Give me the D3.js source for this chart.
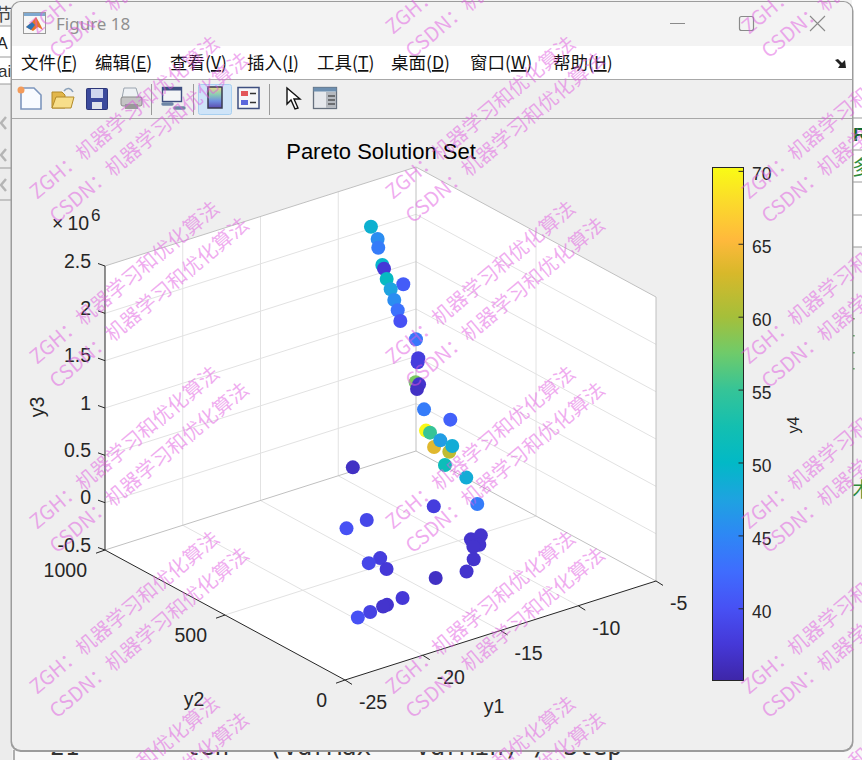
<!DOCTYPE html>
<html>
<head>
<meta charset="utf-8">
<script src="https://cdnjs.cloudflare.com/ajax/libs/d3/7.8.5/d3.min.js"></script>
<style>
  html, body { margin: 0; padding: 0; background: #fff; overflow: hidden; }
  svg { display: block; }
  text { font-family: "Liberation Sans", Arial, sans-serif; }
</style>
</head>
<body>
<svg id="chart" width="862" height="760"></svg>
<script>
// values, y3 in units of 1e6
const y1Values = [-9.44, -9.01, -8.97, -8.71, -8.60, -8.43, -7.36, -8.17, -7.94, -7.72, -7.55,
  -8.09, -7.94, -7.98, -8.11, -7.89, -8.02, -7.57, -5.88,
  -9.76, -9.24, -8.26, -9.50, -8.84, -8.07, -8.54, -8.71, -10.32,
  -12.32, -11.96, -15.70, -17.14, -12.92, -12.22, -12.98, -13.38, -14.30, -15.50, -17.24,
  -18.00, -18.84, -18.56, -20.08, -21.22, -21.50, -22.44, -23.34];
const y2Values = [900, 900, 900, 900, 900, 900, 900, 900, 900, 900, 900,
  800, 800, 800, 800, 800, 800, 800, 800,
  650, 650, 650, 650, 650, 650, 650, 550, 400,
  789, 475, 512, 503, 258, 262, 219, 218, 157, 109, 125,
  307, 300, 244, 79, 70, 68, 61, 54];
const y3Values = [2.239, 2.086, 1.992, 1.796, 1.751, 1.634, 1.522, 1.511, 1.386, 1.266, 1.144,
  1.116, 0.908, 0.867, 0.663, 0.630, 0.588, 0.349, 0.152,
  0.445, 0.244, 0.143, 0.410, 0.294, 0.194, 0.018, 0.031, 0.042,
  0, 0, 0, 0, 0, 0, 0, 0, 0, 0, 0,
  0, 0, 0, 0, 0, 0, 0, 0];
const y4Values = [49, 45.5, 44, 49.5, 37.5, 50.5, 41, 47.5, 45.5, 43, 40,
  43.5, 38, 38, 58, 37, 36.5, 44, 41.5,
  70, 63.5, 61.5, 55, 47, 48.5, 51.5, 48.5, 44,
  36.5, 38, 39, 40, 37, 37, 37, 37, 37, 37, 36.5,
  38, 39, 37.5, 37.5, 37, 37, 38.5, 40];

const y1Ticks = [-25, -20, -15, -10, -5];
const y2Ticks = [0, 500, 1000];
const y3Ticks = [-0.5, 0, 0.5, 1, 1.5, 2, 2.5];
const y4Ticks = [40, 45, 50, 55, 60, 65, 70];
const colorAt = [35.05, 37.5, 40, 42.5, 45, 47.5, 50, 52.5, 55, 57.5, 60, 63, 65.3, 68, 70.23];
const colorStops = ['#3e26a8', '#4538d7', '#4751f4', '#3f6cfe', '#2e87f5', '#1ea3e0', '#02b9c6', '#14bfb0',
  '#36c497', '#6fcb6a', '#a5bf3a', '#d8b82a', '#ffb93c', '#fbdc2a', '#f9fb15'];
const menuItems = [['文件(', 'F', ')', 21], ['编辑(', 'E', ')', 95], ['查看(', 'V', ')', 170], ['插入(', 'I', ')', 247],
  ['工具(', 'T', ')', 317], ['桌面(', 'D', ')', 391], ['窗口(', 'W', ')', 470], ['帮助(', 'H', ')', 553]];

const svg = d3.select('#chart');
const inkFont = '"Liberation Sans", Arial, sans-serif';
const cjkFont = '"Noto Sans CJK SC", sans-serif';
const monoFont = '"DejaVu Sans Mono", monospace';

// --- what is behind the figure window
const back = svg.append('g');
back.append('rect').attr('width', 862).attr('height', 760).attr('fill', '#f3f3f3');
back.append('rect').attr('x', 0).attr('y', 26).attr('width', 12).attr('height', 58).attr('fill', '#fff');
back.append('rect').attr('x', 852).attr('y', 0).attr('width', 10).attr('height', 247).attr('fill', '#fff');
back.append('rect').attr('x', 0).attr('y', 84).attr('width', 12).attr('height', 676).attr('fill', '#ececec');
back.append('rect').attr('x', 14).attr('y', 750).attr('width', 848).attr('height', 10).attr('fill', '#f8f8f8');
[26, 57, 84, 168, 200].forEach(y => {
  back.append('line').attr('x1', 0).attr('x2', 12).attr('y1', y).attr('y2', y).attr('stroke', '#9a9a9a');
});
[118, 150, 182, 215, 247].forEach(y => {
  back.append('line').attr('x1', 852).attr('x2', 862).attr('y1', y).attr('y2', y).attr('stroke', '#9a9a9a');
});
back.append('line').attr('x1', 14).attr('x2', 14).attr('y1', 750).attr('y2', 760).attr('stroke', '#666');
back.append('text').attr('x', -6).attr('y', 21).attr('font-size', 18).attr('fill', '#444').style('font-family', cjkFont).text('节');
back.append('text').attr('x', -3).attr('y', 49).attr('font-size', 16).attr('fill', '#222').text('A');
back.append('text').attr('x', -2).attr('y', 77).attr('font-size', 17).attr('fill', '#333').text('ai');
[123, 155, 185].forEach(y => {
  back.append('path').attr('d', `M6,${y - 6}L1,${y}L6,${y + 6}`).attr('fill', 'none').attr('stroke', '#b5b5b5').attr('stroke-width', 2.5);
});
back.append('text').attr('x', 853).attr('y', 141).attr('font-size', 19).attr('font-weight', 'bold').attr('fill', '#0a6b2a').text('R3');
back.append('text').attr('x', 852).attr('y', 175).attr('font-size', 20).attr('fill', '#2e8b3a').style('font-family', cjkFont).text('多');
back.append('text').attr('x', 852).attr('y', 497).attr('font-size', 20).attr('fill', '#2e8b3a').style('font-family', cjkFont).text('木');
[318, 335, 352, 368].forEach(y => {
  back.append('rect').attr('x', 853).attr('y', y).attr('width', 1.5).attr('height', 1.5).attr('fill', '#2e8b3a');
});
[['21', 50], ['len', 185], ['(VarMax - VarMin) / Step', 268]].forEach(d => {
  back.append('text').attr('x', d[1]).attr('y', 755).attr('font-size', 24.5).attr('fill', '#333')
    .style('font-family', monoFont).text(d[0]);
});

// --- figure window frame
const windowG = svg.append('g');
windowG.append('rect').attr('x', 10.5).attr('y', 1).attr('width', 843).attr('height', 751).attr('rx', 10)
  .attr('fill', '#9c9c9c');
windowG.append('rect').attr('x', 12).attr('y', 2).attr('width', 840).attr('height', 748).attr('rx', 9)
  .attr('fill', '#efefef');
windowG.append('path').attr('d', 'M12,46V11a9,9 0 0 1 9,-9H843a9,9 0 0 1 9,9V46Z').attr('fill', '#f3f3f3');
windowG.append('rect').attr('x', 12).attr('y', 46).attr('width', 840).attr('height', 33).attr('fill', '#fff');
windowG.append('line').attr('x1', 12).attr('x2', 852).attr('y1', 79.5).attr('y2', 79.5).attr('stroke', '#a8a8a8');
windowG.append('line').attr('x1', 12).attr('x2', 852).attr('y1', 118.5).attr('y2', 118.5).attr('stroke', '#a8a8a8');

// title bar
const appIcon = windowG.append('g');
appIcon.append('rect').attr('x', 23.5).attr('y', 12.5).attr('width', 22).attr('height', 21).attr('fill', '#f7f7f7').attr('stroke', '#9a9a9a');
appIcon.append('rect').attr('x', 24).attr('y', 13).attr('width', 21).attr('height', 3).attr('fill', '#7fa9d0');
appIcon.append('path').attr('d', 'M26,27L32,22L36,17L39,22L43,30L38,27L33,31Z').attr('fill', '#e8742a');
appIcon.append('path').attr('d', 'M26,27L32,22L35,25L31,30Z').attr('fill', '#2f74b5');
windowG.append('text').attr('x', 56).attr('y', 30).attr('font-size', 17).attr('fill', '#8f8f8f')
  .style('font-family', '"Noto Sans", sans-serif').text('Figure 18');
windowG.append('line').attr('x1', 670).attr('x2', 685).attr('y1', 23.5).attr('y2', 23.5).attr('stroke', '#8a8a8a');
windowG.append('rect').attr('x', 739.5).attr('y', 16.5).attr('width', 14).attr('height', 14).attr('rx', 2)
  .attr('fill', 'none').attr('stroke', '#8a8a8a').attr('stroke-width', 1.2);
windowG.append('path').attr('d', 'M810,16L825,31M825,16L810,31').attr('stroke', '#8a8a8a').attr('stroke-width', 1.1);

// menu bar
menuItems.forEach(m => {
  const t = windowG.append('text').attr('x', m[3]).attr('y', 69).attr('font-size', 17.5).attr('fill', '#111')
    .style('font-family', cjkFont);
  t.append('tspan').text(m[0]);
  t.append('tspan').style('text-decoration', 'underline').text(m[1]);
  t.append('tspan').text(m[2]);
});
windowG.append('path').attr('d', 'M835,60L838,59L842,63L845,60L846,68L838,68L840,65Z').attr('fill', '#222');

// toolbar
const bar = windowG.append('g');
bar.append('rect').attr('x', 198.5).attr('y', 84.5).attr('width', 33).attr('height', 30).attr('rx', 2)
  .attr('fill', '#cfe4f8').attr('stroke', '#a9d0f0');
[151.5, 193.5, 269.5].forEach(x => {
  bar.append('line').attr('x1', x).attr('x2', x).attr('y1', 84).attr('y2', 115).attr('stroke', '#9a9a9a');
});
// new
bar.append('path').attr('d', 'M21,88H34L41,95V109H21Z').attr('fill', '#f8fbff').attr('stroke', '#7d96bd').attr('stroke-width', 1.6);
bar.append('circle').attr('cx', 21).attr('cy', 90).attr('r', 3.5).attr('fill', '#f39b5a');
// open
bar.append('path').attr('d', 'M52,92H62L65,95V108H52Z').attr('fill', '#e2b64a').attr('stroke', '#b28a2a');
bar.append('path').attr('d', 'M52,108L56,97H74L71,108Z').attr('fill', '#f7de8a').attr('stroke', '#b28a2a');
bar.append('path').attr('d', 'M64,91C67,87 71,88 73,92').attr('fill', 'none').attr('stroke', '#8aa0b8').attr('stroke-width', 1.6);
// save
bar.append('rect').attr('x', 86.5).attr('y', 88.5).attr('width', 21).attr('height', 21).attr('rx', 1).attr('fill', '#3b4a9c').attr('stroke', '#2c3678');
bar.append('rect').attr('x', 91).attr('y', 89).attr('width', 12).attr('height', 9).attr('fill', '#cfd6ee');
bar.append('rect').attr('x', 92).attr('y', 102).attr('width', 10).attr('height', 7).attr('fill', '#dfe2ea');
// print
bar.append('path').attr('d', 'M124,88H136L139,98H122Z').attr('fill', '#eef1f4').attr('stroke', '#9aa4ae');
bar.append('rect').attr('x', 121).attr('y', 97).attr('width', 21).attr('height', 9).attr('rx', 2).attr('fill', '#c4c4c4').attr('stroke', '#8a8a8a');
bar.append('rect').attr('x', 125).attr('y', 104).attr('width', 13).attr('height', 5).attr('fill', '#999');
// link
bar.append('rect').attr('x', 162.5).attr('y', 87.5).attr('width', 19).attr('height', 14).attr('fill', '#f3f4f6').attr('stroke', '#3f4f80').attr('stroke-width', 1.4);
bar.append('rect').attr('x', 162.5).attr('y', 87.5).attr('width', 19).attr('height', 3).attr('fill', '#3f4f80');
bar.append('path').attr('d', 'M163,104H172M175,108H184').attr('stroke', '#6e86a6').attr('stroke-width', 3.4).attr('stroke-linecap', 'round');
// colorbar toggle
const iconGrad = svg.append('defs').append('linearGradient').attr('id', 'iconGrad').attr('x1', 0).attr('x2', 0).attr('y1', 0).attr('y2', 1);
['#e8d98a', '#8fd0b0', '#6f8fe0', '#5a4bb0'].forEach((c, i) => {
  iconGrad.append('stop').attr('offset', i / 3).attr('stop-color', c);
});
bar.append('rect').attr('x', 208).attr('y', 87).attr('width', 14).attr('height', 21).attr('fill', 'url(#iconGrad)').attr('stroke', '#3a3a50').attr('stroke-width', 1.5);
// legend
bar.append('rect').attr('x', 238).attr('y', 87.5).attr('width', 21).attr('height', 21).attr('fill', '#f5f6f8').attr('stroke', '#3f4f80').attr('stroke-width', 1.5);
bar.append('rect').attr('x', 241).attr('y', 91).attr('width', 7).attr('height', 5).attr('fill', '#e2565a');
bar.append('rect').attr('x', 241).attr('y', 100).attr('width', 7).attr('height', 5).attr('fill', '#5a66dc');
bar.append('path').attr('d', 'M250,93.5H256M250,102.5H256').attr('stroke', '#333').attr('stroke-width', 1.6);
// pointer
bar.append('path').attr('d', 'M287,88L287,104L291,100L295,109L298,108L294,99L300,99Z').attr('fill', '#fff').attr('stroke', '#111').attr('stroke-width', 1.4);
// panel
bar.append('rect').attr('x', 313.5).attr('y', 87.5).attr('width', 23).attr('height', 21).attr('fill', '#e6e8ec').attr('stroke', '#66707e').attr('stroke-width', 1.3);
bar.append('rect').attr('x', 313.5).attr('y', 87.5).attr('width', 23).attr('height', 4).attr('fill', '#6d8fb0');
bar.append('rect').attr('x', 326).attr('y', 92).attr('width', 10).attr('height', 16).attr('fill', '#b5b9bf');
bar.append('path').attr('d', 'M328,96H335M328,100H335M328,104H335').attr('stroke', '#222').attr('stroke-width', 1.2);

// --- 3D axes: each data axis moves the point along its own edge of the box
const originX = 345, originY = 680;
const y1ToX = d3.scaleLinear().domain([-25, -5]).range([0, 311]);
const y1ToY = d3.scaleLinear().domain([-25, -5]).range([0, -99]);
const y2ToX = d3.scaleLinear().domain([0, 1000]).range([0, -240]);
const y2ToY = d3.scaleLinear().domain([0, 1000]).range([0, -130]);
const y3ToY = d3.scaleLinear().domain([-0.5, 2.5]).range([0, -284]);
const project = (a, b, c) => [originX + y1ToX(a) + y2ToX(b), originY + y1ToY(a) + y2ToY(b) + y3ToY(c)];
const segment = (p, q) => `M${p[0]},${p[1]}L${q[0]},${q[1]}`;

const plot = svg.append('g');
const y1Lo = -25, y1Hi = -5, y2Lo = 0, y2Hi = 1000, y3Lo = -0.5, y3Hi = 2.5;
const outline = [[y1Lo, y2Hi, y3Hi], [y1Hi, y2Hi, y3Hi], [y1Hi, y2Lo, y3Hi], [y1Hi, y2Lo, y3Lo], [y1Lo, y2Lo, y3Lo], [y1Lo, y2Hi, y3Lo]]
  .map(d => project(d[0], d[1], d[2]));
plot.append('polygon').attr('points', outline.map(d => d.join(',')).join(' ')).attr('fill', '#fff');

const grid = plot.append('g').attr('fill', 'none').attr('stroke', '#e2e2e2').attr('stroke-width', 1);
y1Ticks.slice(1, -1).forEach(t => {
  grid.append('path').attr('d', segment(project(t, y2Lo, y3Lo), project(t, y2Hi, y3Lo)));
  grid.append('path').attr('d', segment(project(t, y2Hi, y3Lo), project(t, y2Hi, y3Hi)));
});
[500].forEach(t => {
  grid.append('path').attr('d', segment(project(y1Lo, t, y3Lo), project(y1Hi, t, y3Lo)));
  grid.append('path').attr('d', segment(project(y1Hi, t, y3Lo), project(y1Hi, t, y3Hi)));
});
y3Ticks.slice(1, -1).forEach(t => {
  grid.append('path').attr('d', segment(project(y1Lo, y2Hi, t), project(y1Hi, y2Hi, t)));
  grid.append('path').attr('d', segment(project(y1Hi, y2Hi, t), project(y1Hi, y2Lo, t)));
});
// box edges at the back
const backEdges = plot.append('g').attr('fill', 'none').attr('stroke', '#c0c0c0').attr('stroke-width', 1);
backEdges.append('path').attr('d', segment(project(y1Hi, y2Hi, y3Lo), project(y1Hi, y2Hi, y3Hi)));
backEdges.append('path').attr('d', segment(project(y1Lo, y2Hi, y3Lo), project(y1Hi, y2Hi, y3Lo)));
backEdges.append('path').attr('d', segment(project(y1Hi, y2Hi, y3Lo), project(y1Hi, y2Lo, y3Lo)));
backEdges.append('path').attr('d', segment(project(y1Lo, y2Hi, y3Hi), project(y1Hi, y2Hi, y3Hi)));
backEdges.append('path').attr('d', segment(project(y1Hi, y2Hi, y3Hi), project(y1Hi, y2Lo, y3Hi)));
backEdges.append('path').attr('d', segment(project(y1Hi, y2Lo, y3Lo), project(y1Hi, y2Lo, y3Hi)));
// axis rulers
const rulers = plot.append('g').attr('fill', 'none').attr('stroke', '#262626').attr('stroke-width', 1);
rulers.append('path').attr('d', segment(project(y1Lo, y2Hi, y3Lo), project(y1Lo, y2Hi, y3Hi)));
rulers.append('path').attr('d', segment(project(y1Lo, y2Lo, y3Lo), project(y1Lo, y2Hi, y3Lo)));
rulers.append('path').attr('d', segment(project(y1Lo, y2Lo, y3Lo), project(y1Hi, y2Lo, y3Lo)));
y3Ticks.forEach(t => {
  const p = project(y1Lo, y2Hi, t);
  rulers.append('path').attr('d', segment(p, [p[0] - 7, p[1] - 2.5]));
});
y2Ticks.forEach(t => {
  const p = project(y1Lo, t, y3Lo);
  rulers.append('path').attr('d', segment(p, [p[0] - 9, p[1] + 3.2]));
});
y1Ticks.forEach(t => {
  const p = project(t, y2Lo, y3Lo);
  rulers.append('path').attr('d', segment(p, [p[0] + 7, p[1] + 4.4]));
});

const labels = plot.append('g').attr('fill', '#262626').attr('font-size', 19.5);
y3Ticks.forEach(t => {
  const p = project(y1Lo, y2Hi, t);
  labels.append('text').attr('x', p[0] - 14).attr('y', p[1] + 1.5).attr('text-anchor', 'end').text(t);
});
y2Ticks.forEach(t => {
  const p = project(y1Lo, t, y3Lo);
  labels.append('text').attr('x', p[0] - 18).attr('y', p[1] + 27).attr('text-anchor', 'end').text(t);
});
y1Ticks.forEach(t => {
  const p = project(t, y2Lo, y3Lo);
  labels.append('text').attr('x', p[0] + 14).attr('y', p[1] + 29).attr('text-anchor', 'start').text(t);
});
labels.append('text').attr('x', 52).attr('y', 230).html('×<tspan dx="4">10</tspan><tspan dx="2" dy="-9" font-size="17">6</tspan>');
labels.append('text').attr('x', 194).attr('y', 706).attr('text-anchor', 'middle').text('y2');
labels.append('text').attr('x', 494).attr('y', 713).attr('text-anchor', 'middle').text('y1');
labels.append('text').attr('transform', 'translate(44,407) rotate(-90)').attr('text-anchor', 'middle').text('y3');
plot.append('text').attr('x', 381).attr('y', 159).attr('text-anchor', 'middle').attr('font-size', 22).attr('fill', '#000').text('Pareto Solution Set');

// --- color scale shared by the points and the colorbar
const color = d3.scaleLinear().domain(colorAt).range(colorStops).interpolate(d3.interpolateRgb);

plot.append('g').selectAll('circle')
  .data(d3.range(y1Values.length))
  .enter().append('circle')
  .attr('cx', i => project(y1Values[i], y2Values[i], y3Values[i])[0])
  .attr('cy', i => project(y1Values[i], y2Values[i], y3Values[i])[1])
  .attr('r', 7)
  .attr('fill', i => color(y4Values[i]));

// --- colorbar
const cMin = colorAt[0], cMax = colorAt[colorAt.length - 1];
const barGrad = svg.select('defs').append('linearGradient').attr('id', 'barGrad').attr('x1', 0).attr('x2', 0).attr('y1', 1).attr('y2', 0);
colorStops.forEach((c, i) => {
  barGrad.append('stop').attr('offset', (colorAt[i] - cMin) / (cMax - cMin)).attr('stop-color', c);
});
const barTop = 167.5, barBottom = 680.5, barLeft = 712.5, barRight = 743.5;
const barScale = d3.scaleLinear().domain([cMin, cMax]).range([barBottom, barTop]);
const cbar = svg.append('g');
cbar.append('rect').attr('x', barLeft).attr('y', barTop).attr('width', barRight - barLeft).attr('height', barBottom - barTop)
  .attr('fill', 'url(#barGrad)').attr('stroke', '#262626');
const cbarAxis = cbar.append('g').attr('transform', `translate(${barRight},0)`)
  .call(d3.axisRight(barScale).tickValues(y4Ticks).tickSize(-5).tickPadding(8.5));
cbarAxis.select('.domain').remove();
cbarAxis.selectAll('line').attr('stroke', '#262626');
cbarAxis.selectAll('text').attr('font-size', 17.5).attr('fill', '#262626').attr('dy', '0.5em').style('font-family', inkFont);
cbar.append('text').attr('transform', 'translate(799,425) rotate(-90)').attr('text-anchor', 'middle')
  .attr('font-size', 16).attr('fill', '#262626').text('y4');

// --- repeated watermark over everything
const marks = svg.append('g').attr('fill', 'rgb(224,90,224)').attr('fill-opacity', 0.5)
  .attr('font-size', 20);
[-319, 37, 393, 749].forEach(x => {
  [35, 200, 365, 530, 695, 860].forEach(y => {
    marks.append('text').attr('transform', `translate(${x},${y}) rotate(-40)`).style('font-family', cjkFont).text('ZGH：机器学习和优化算法');
    marks.append('text').attr('transform', `translate(${x + 20},${y + 24}) rotate(-40)`).style('font-family', cjkFont).text('CSDN：机器学习和优化算法');
  });
});
</script>
</body>
</html>
